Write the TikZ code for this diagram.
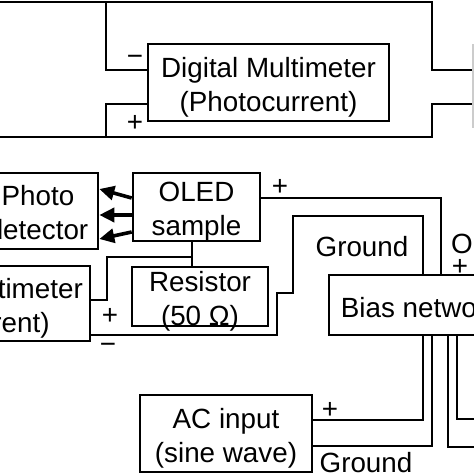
\documentclass[tikz,border=0pt]{standalone}
\usepackage{fontspec}
\setmainfont{Liberation Sans}
\usetikzlibrary{arrows.meta}

\tikzset{
  box/.style={draw, line width=2.6pt, align=center, inner sep=0pt, text height=57pt, text depth=0pt},
  wire/.style={line width=2.6pt},
  ray/.style={line width=3.6pt, -{Triangle[length=15pt,width=14pt]}},
  tag/.style={inner sep=0pt}
}

\begin{document}
\begin{tikzpicture}[x=1pt, y=-1pt, font=\fontsize{27.8}{34}\selectfont]
  \useasboundingbox (0,0) rectangle (474,474);

  % boxes
  \node[box, minimum width=241pt, minimum height=77pt] (dmm) at (268.5,82.5) {Digital Multimeter\\(Photocurrent)};
  \node[box, draw=black!20, line width=1.5pt, minimum width=134pt, minimum height=82pt] (rbox) at (540,86) {};
  \node[box, minimum width=120pt, minimum height=76pt] (det) at (38,211) {Photo\\detector};
  \node[box, minimum width=127pt, minimum height=68pt] (oled) at (196.5,207) {OLED\\sample};
  \node[box, minimum width=136pt, minimum height=59pt] (res) at (200,296.5) {Resistor\\(50 Ω)};
  \node[box, minimum width=192pt, minimum height=75pt] (mm) at (-6,303.5) {DC Multimeter\\(Current)};
  \node[box, text height=24pt, minimum width=183pt, minimum height=60pt] (bias) at (420.5,305) {Bias network};
  \node[box, minimum width=172pt, minimum height=77pt] (ac) at (226,433.5) {AC input\\(sine wave)};

  % loose ends
  \coordinate (tl) at (-10,2);
  \coordinate (bl) at (-10,137);
  \coordinate (j) at (192,257);
  \coordinate (rb1) at (480,447);
  \coordinate (rb2) at (480,419);

  % photocurrent loop
  \draw[wire] (tl) -- (432,2) |- ([yshift=16pt]rbox.west);
  \draw[wire] (bl) -- (432,137) |- ([yshift=-18pt]rbox.west);
  \draw[wire] ([yshift=12.5pt]dmm.west) -| (106,2);
  \draw[wire] ([yshift=-21.5pt]dmm.west) -| (106,137);

  % light from the sample
  \foreach \s/\e in {9pt/22pt, -8pt/-4pt, -25pt/-28pt}
    \draw[ray] ([yshift=\s]oled.west) -- ([yshift=\e]det.east);

  % drive circuit
  \draw[wire] (j |- oled.south) -- (j |- res.north);
  \draw[wire] (j) -- (107,257) |- ([yshift=3.5pt]mm.east);
  \draw[wire] ([yshift=9pt]oled.east) -| ([xshift=20.5pt]bias.north);
  \draw[wire] ([yshift=-31.5pt]mm.east) -| (277,293) -| (293,216) -| ([xshift=2.5pt]bias.north);
  \draw[wire] ([xshift=2.5pt]bias.south) |- ([yshift=13.5pt]ac.east);
  \draw[wire] ([xshift=11.5pt]bias.south) |- ([yshift=-12.5pt]ac.east);
  \draw[wire] ([xshift=27.5pt]bias.south) |- (rb1);
  \draw[wire] ([xshift=36.5pt]bias.south) |- (rb2);

  % polarity and port labels
  \node[tag] (dmmminus) at (135,60) {−};
  \node[tag] (dmmplus) at (135,123) {+};
  \node[tag] (oledplus) at (280,187) {+};
  \node[tag] (mmplus) at (110,316) {+};
  \node[tag] (mmminus) at (108,348) {−};
  \node[tag] (acplus) at (330,410) {+};
  \node[tag] (outplus) at (460,267) {+};
  \node[tag] (gndtop) at (362,247) {Ground};
  \node[tag] (gndbot) at (366,463) {Ground};
  \node[tag, anchor=west] (outlabel) at (451,247) {Output};
\end{tikzpicture}
\end{document}
